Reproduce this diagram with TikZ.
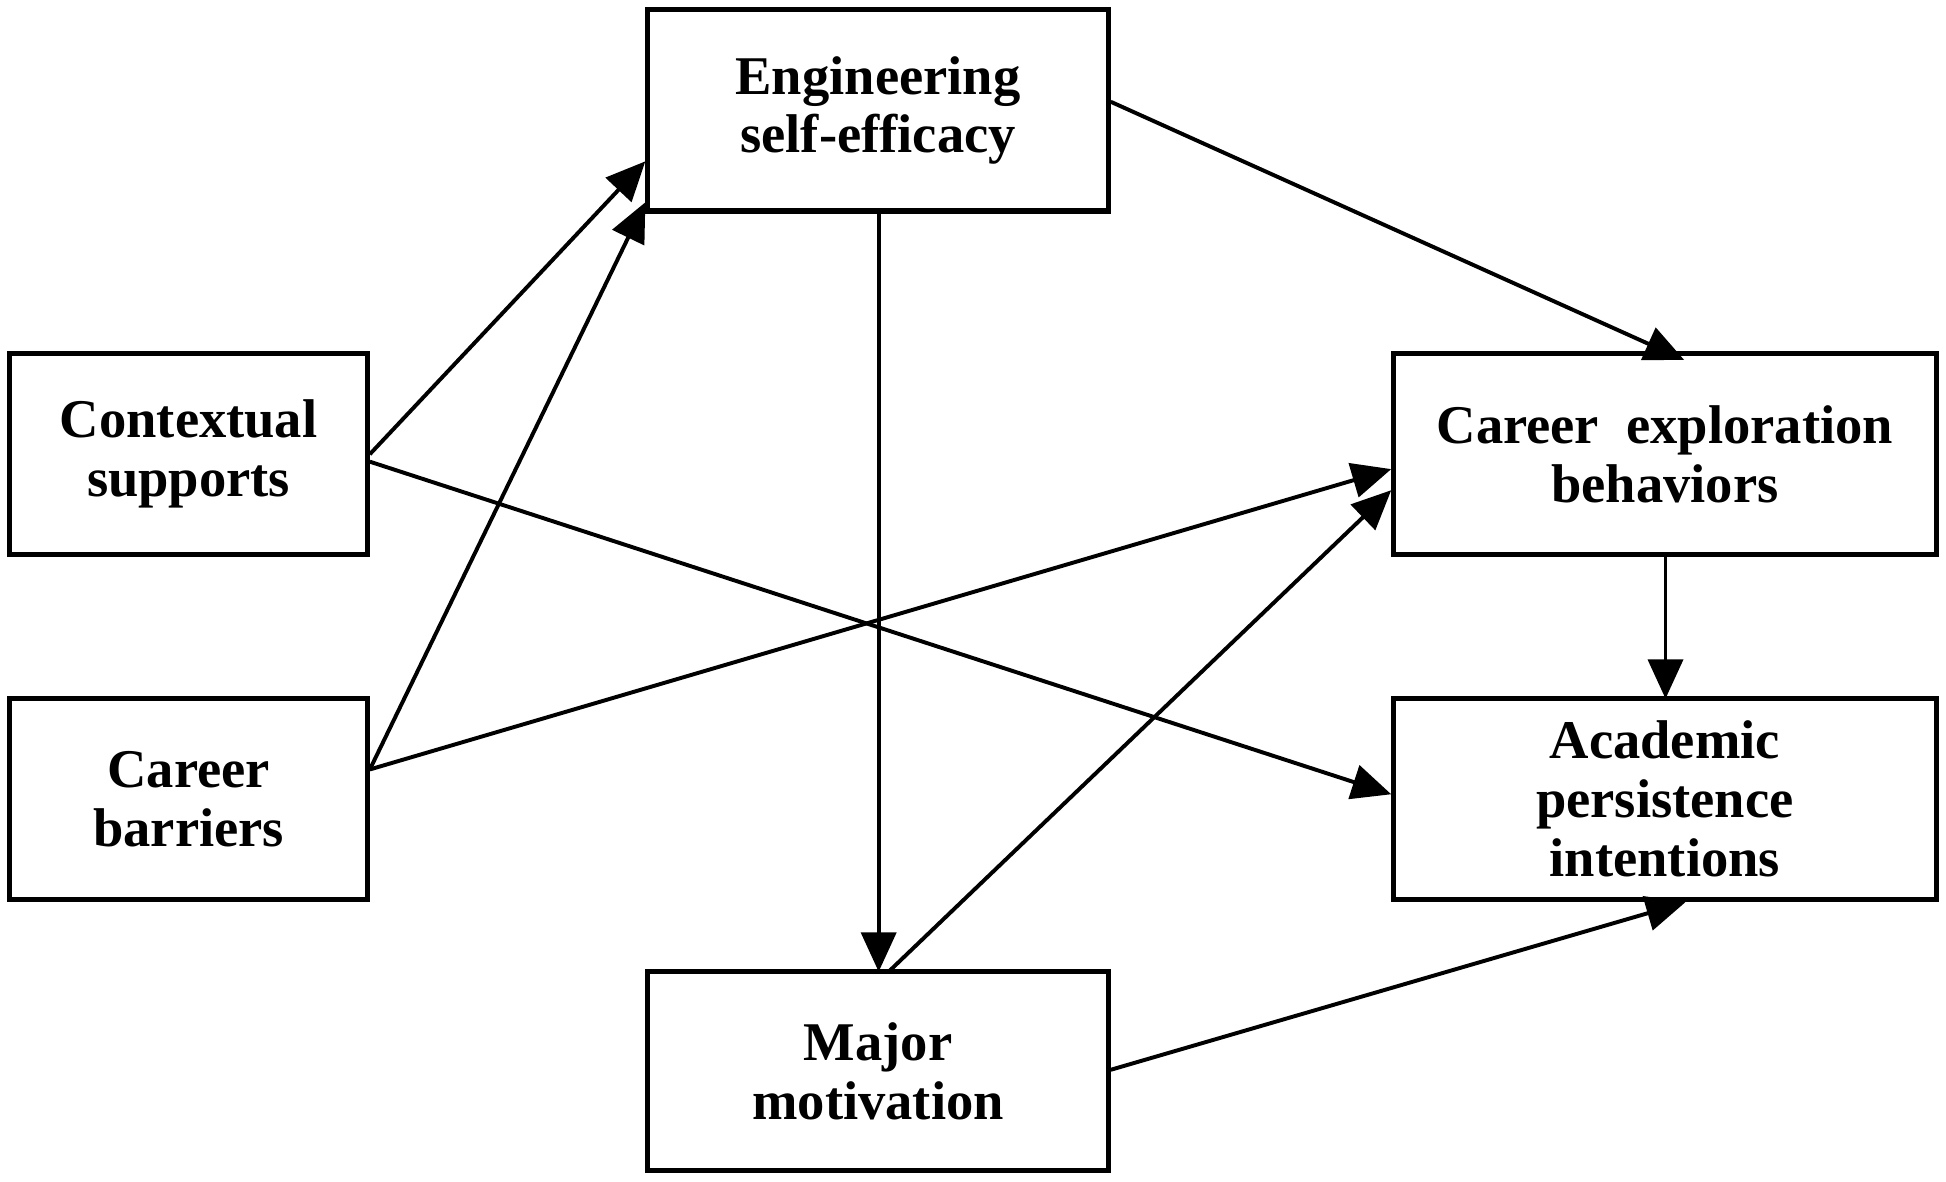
\documentclass[tikz,border=0pt]{standalone}
\usepackage{fontspec}
\setmainfont{Liberation Serif}
\usetikzlibrary{arrows.meta}
\begin{document}
\begin{tikzpicture}[x=0.01cm,y=-0.01cm,
 box/.style={draw,line width=1.2pt,minimum width=#1,align=center,inner sep=0pt,font=\fontsize{12.5}{13.5}\selectfont\bfseries},
 arr/.style={line width=0.9pt,-{Triangle[length=9pt,width=8pt]}}]
\useasboundingbox (0,0) rectangle (1568,952);
\node[box=3.71cm,minimum height=1.62cm] (eng) at (707.5,89) {Engineering\\self-efficacy};
\node[box=2.88cm,minimum height=1.62cm] (ctx) at (152,366) {Contextual\\supports};
\node[box=2.88cm,minimum height=1.62cm] (bar) at (152,644) {Career\\barriers};
\node[box=4.37cm,minimum height=1.62cm] (cex) at (1341.5,366) {Career\ \ exploration\\behaviors};
\node[box=4.37cm,minimum height=1.62cm] (aca) at (1341.5,644) {Academic\\persistence\\intentions};
\node[box=3.71cm,minimum height=1.60cm] (maj) at (707.5,863) {Major\\motivation};
\coordinate (c1) at (298,366); \coordinate (c2) at (298,372);
\coordinate (b1) at (298,620);
\coordinate (e1) at (520,130); \coordinate (e2) at (520,163);
\coordinate (e3) at (895,82); \coordinate (e4) at (708,172);
\coordinate (x1) at (1357,290); \coordinate (x2) at (1121,378); \coordinate (x3) at (1121,395);
\coordinate (a1) at (1121,640); \coordinate (a2) at (1358,727);
\coordinate (m1) at (708,783); \coordinate (m2) at (716,783); \coordinate (m3) at (895,862);
\coordinate (xb) at (1342,449); \coordinate (at) at (1342,563);
\draw[arr] (c1) -- (e1);
\draw[arr] (b1) -- (e2);
\draw[arr] (c2) -- (a1);
\draw[arr] (b1) -- (x2);
\draw[arr] (e3) -- (x1);
\draw[arr] (e4) -- (m1);
\draw[arr] (m2) -- (x3);
\draw[arr] (xb) -- (at);
\draw[arr] (m3) -- (a2);
\end{tikzpicture}
\end{document}
